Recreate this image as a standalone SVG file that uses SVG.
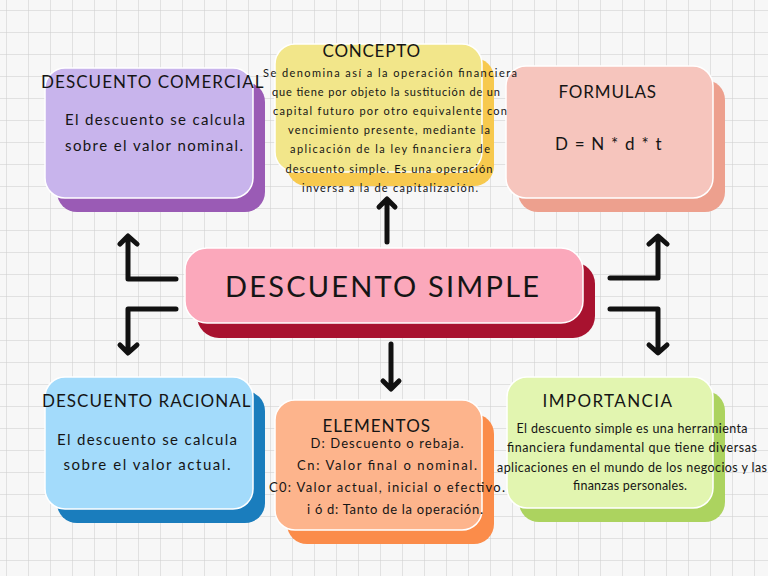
<svg xmlns="http://www.w3.org/2000/svg" width="768" height="576" viewBox="0 0 768 576">
<defs>
<pattern id="grid" x="6" y="10" width="22" height="22" patternUnits="userSpaceOnUse">
<path d="M0 0 V22 M0 0 H22" fill="none" stroke="#cccccc" stroke-width="1"/>
</pattern>
<style>
text{font-family:Lato,"Open Sans","Liberation Sans",sans-serif;fill:#151515;text-anchor:middle}
.t{font-size:17px;letter-spacing:1.5px}
.b{font-size:15px}
.s{font-size:11px}
.m{font-size:13px}
.g{font-size:12.5px}
.front{stroke:#ffffff;stroke-width:1.5}
.arr{fill:none;stroke:#111;stroke-width:5;stroke-linecap:round;stroke-linejoin:round}
</style>
</defs>
<rect width="768" height="576" fill="#f7f7f7"/>
<rect width="768" height="576" fill="url(#grid)"/>

<g id="connectors">
<path class="arr" d="M176 279 H128 V237 M120 244 L128 236 L137 244"/>
<path class="arr" d="M176 309 H128 V351 M120 345 L128 353 L137 345"/>
<path class="arr" d="M610 278 H658 V237 M649 244 L658 236 L667 244"/>
<path class="arr" d="M610 309 H658 V351 M649 345 L658 353 L667 345"/>
<path class="arr" d="M387 242 V200 M379 207 L387 199 L395 207"/>
<path class="arr" d="M391 344 V388 M383 381 L391 389 L399 381"/>
</g>

<g id="formulas">
<rect x="518" y="80" width="207" height="132" rx="20" fill="#eda08e"/>
<rect class="front" x="506" y="66" width="207" height="132" rx="20" fill="#f6c5bd"/>
<text class="t" x="608" y="98" textLength="99" lengthAdjust="spacing">FORMULAS</text>
<text class="t" x="609" y="150" textLength="108" lengthAdjust="spacing">D = N * d * t</text>
</g>

<g id="comercial">
<rect x="57" y="82" width="208" height="130" rx="20" fill="#9a5bb5"/>
<rect class="front" x="45" y="68" width="208" height="130" rx="20" fill="#c8b4ec"/>
<text class="t" x="153" y="88" textLength="224" lengthAdjust="spacing">DESCUENTO COMERCIAL</text>
<text class="b" x="155" y="125" textLength="180" lengthAdjust="spacing">El descuento se calcula</text>
<text class="b" x="154" y="151" textLength="178" lengthAdjust="spacing">sobre el valor nominal.</text>
</g>

<g id="concepto">
<rect x="287" y="58" width="207" height="128" rx="20" fill="#f7c94e"/>
<rect class="front" x="275" y="44" width="207" height="128" rx="20" fill="#f2e68a"/>
<text class="t" x="372" y="57" textLength="99" lengthAdjust="spacing">CONCEPTO</text>
<text class="s" x="390" y="77" textLength="254" lengthAdjust="spacing">Se denomina así a la operación financiera</text>
<text class="s" x="386" y="96" textLength="228" lengthAdjust="spacing">que tiene por objeto la sustitución de un</text>
<text class="s" x="390" y="115" textLength="234" lengthAdjust="spacing">capital futuro por otro equivalente con</text>
<text class="s" x="389" y="134" textLength="202" lengthAdjust="spacing">vencimiento presente, mediante la</text>
<text class="s" x="390" y="153" textLength="200" lengthAdjust="spacing">aplicación de la ley financiera de</text>
<text class="s" x="389" y="173" textLength="207" lengthAdjust="spacing">descuento simple. Es una operación</text>
<text class="s" x="390" y="192" textLength="176" lengthAdjust="spacing">inversa a la de capitalización.</text>
</g>

<g id="centro">
<rect x="197" y="262" width="398" height="76" rx="22" fill="#a8122f"/>
<rect class="front" x="185" y="248" width="398" height="75" rx="22" fill="#fba8bb"/>
<text x="384" y="297" style="font-size:29px;letter-spacing:4px" textLength="318" lengthAdjust="spacing">DESCUENTO SIMPLE</text>
</g>

<g id="racional">
<rect x="57" y="391" width="208" height="132" rx="20" fill="#1a7dbd"/>
<rect class="front" x="45" y="377" width="208" height="132" rx="20" fill="#a3dbfb"/>
<text class="t" x="147" y="407" textLength="210" lengthAdjust="spacing">DESCUENTO RACIONAL</text>
<text class="b" x="147" y="445" textLength="180" lengthAdjust="spacing">El descuento se calcula</text>
<text class="b" x="147" y="470" textLength="167" lengthAdjust="spacing">sobre el valor actual.</text>
</g>

<g id="importancia">
<rect x="519" y="391" width="206" height="131" rx="20" fill="#acd35f"/>
<rect class="front" x="507" y="377" width="206" height="131" rx="20" fill="#e2f5b0"/>
<text class="t" x="608" y="407" textLength="131" lengthAdjust="spacing">IMPORTANCIA</text>
<text class="g" x="632" y="433" textLength="231" lengthAdjust="spacing">El descuento simple es una herramienta</text>
<text class="g" x="632" y="452" textLength="250" lengthAdjust="spacing">financiera fundamental que tiene diversas</text>
<text class="g" x="632" y="472" textLength="270" lengthAdjust="spacing">aplicaciones en el mundo de los negocios y las</text>
<text class="g" x="630" y="490" textLength="114" lengthAdjust="spacing">finanzas personales.</text>
</g>

<g id="elementos">
<rect x="287" y="414" width="207" height="130" rx="20" fill="#fb8c4a"/>
<rect class="front" x="275" y="400" width="207" height="130" rx="20" fill="#fdb48c"/>
<text class="t" x="377" y="432" textLength="109" lengthAdjust="spacing">ELEMENTOS</text>
<text class="m" x="387" y="448" textLength="153" lengthAdjust="spacing">D: Descuento o rebaja.</text>
<text class="m" x="387" y="470" textLength="180" lengthAdjust="spacing">Cn: Valor final o nominal.</text>
<text class="m" x="387" y="492" textLength="236" lengthAdjust="spacing">C0: Valor actual, inicial o efectivo.</text>
<text class="m" x="395" y="514" textLength="176" lengthAdjust="spacing">i ó d: Tanto de la operación.</text>
</g>
</svg>
